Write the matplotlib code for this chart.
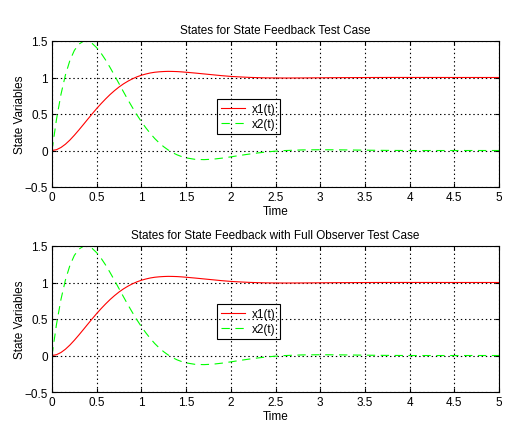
import matplotlib
matplotlib.use("Agg")
import matplotlib.pyplot as plt

plt.rcParams['font.family'] = ['Liberation Sans', 'DejaVu Sans']
plt.rcParams['lines.scale_dashes'] = False

# Time samples
t = [0.0, 0.05, 0.1, 0.15, 0.2, 0.25, 0.3, 0.35, 0.4, 0.45, 0.5, 0.55, 0.6, 0.65,
     0.7, 0.75, 0.8, 0.85, 0.9, 0.95, 1.0, 1.05, 1.1, 1.15, 1.2, 1.25, 1.3, 1.35,
     1.4, 1.45, 1.5, 1.6, 1.7, 1.8, 1.9, 2.0, 2.1, 2.2, 2.3, 2.4, 2.5, 2.6, 2.8,
     3.0, 3.2, 3.4, 3.6, 3.8, 4.0, 4.5, 5.0]

# State feedback test case
x1_sf = [0.0, 0.011, 0.041, 0.086, 0.143, 0.209, 0.280, 0.354, 0.429, 0.503,
         0.575, 0.643, 0.707, 0.767, 0.821, 0.870, 0.913, 0.950, 0.982, 1.009,
         1.031, 1.048, 1.062, 1.072, 1.078, 1.082, 1.084, 1.083, 1.081, 1.077,
         1.072, 1.061, 1.049, 1.037, 1.025, 1.015, 1.008, 1.002, 0.998, 0.995,
         0.994, 0.993, 0.994, 0.996, 0.998, 0.999, 1.000, 1.0005, 1.0006, 1.0002, 1.0]
x2_sf = [0.0, 0.425, 0.767, 1.034, 1.233, 1.371, 1.456, 1.496, 1.496, 1.466,
         1.408, 1.331, 1.239, 1.136, 1.027, 0.915, 0.803, 0.693, 0.588, 0.488,
         0.395, 0.310, 0.233, 0.163, 0.103, 0.051, 0.007, -0.030, -0.060, -0.083,
         -0.101, -0.121, -0.125, -0.119, -0.105, -0.087, -0.068, -0.050, -0.034,
         -0.020, -0.009, -0.001, 0.008, 0.0105, 0.009, 0.006, 0.003, 0.001,
         -0.0004, -0.0003, 0.0]

# State feedback with full observer test case
x1_obs = list(x1_sf)
x2_obs = list(x2_sf)

titles = ["States for State Feedback Test Case",
          "States for State Feedback with Full Observer Test Case"]
series_labels = ["x1(t)", "x2(t)"]
xticks = [0, 0.5, 1, 1.5, 2, 2.5, 3, 3.5, 4, 4.5, 5]
xticklabels = ["0", "0.5", "1", "1.5", "2", "2.5", "3", "3.5", "4", "4.5", "5"]
yticks = [-0.5, 0, 0.5, 1, 1.5]
yticklabels = ["\u22120.5", "0", "0.5", "1", "1.5"]

W, H = 524, 431
fig = plt.figure(figsize=(W / 100, H / 100), dpi=100)
fig.patch.set_facecolor('white')

positions = [
    [52 / W, 1 - 188 / H, 447 / W, 146 / H],
    [52 / W, 1 - 393 / H, 447 / W, 146 / H],
]
data = [(x1_sf, x2_sf), (x1_obs, x2_obs)]

fs = 8.5
for pos, title, (x1, x2) in zip(positions, titles, data):
    ax = fig.add_axes(pos)
    ax.plot(t, x1, color=(1, 0, 0), lw=0.8, label=series_labels[0])
    ax.plot(t, x2, color=(0, 1, 0), lw=0.8, dashes=(6, 4), label=series_labels[1])
    ax.set_xlim(0, 5)
    ax.set_ylim(-0.5, 1.5)
    ax.set_xticks(xticks)
    ax.set_xticklabels(xticklabels, fontsize=fs)
    ax.set_yticks(yticks)
    ax.set_yticklabels(yticklabels, fontsize=fs)
    ax.tick_params(direction='in', top=True, right=True, length=3, width=0.8,
                   pad=3, colors='black')
    ax.grid(True, color='black', linestyle=(0, (1, 2)), linewidth=0.8)
    for s in ax.spines.values():
        s.set_linewidth(0.8)
        s.set_color('black')
    ax.set_title(title, fontsize=fs, pad=6)
    ax.set_xlabel("Time", fontsize=fs, labelpad=1)
    ax.set_ylabel("State Variables", fontsize=fs, labelpad=-1)
    leg = ax.legend(loc='upper left', bbox_to_anchor=(0.369, 0.603),
                    fontsize=fs, frameon=True, fancybox=False, framealpha=1,
                    handlelength=2.0, borderpad=0.35, labelspacing=0.25,
                    handletextpad=0.6, borderaxespad=0)
    fr = leg.get_frame()
    fr.set_facecolor('none')
    fr.set_edgecolor('black')
    fr.set_linewidth(0.8)

fig.savefig("out.png", dpi=100, facecolor='white')
